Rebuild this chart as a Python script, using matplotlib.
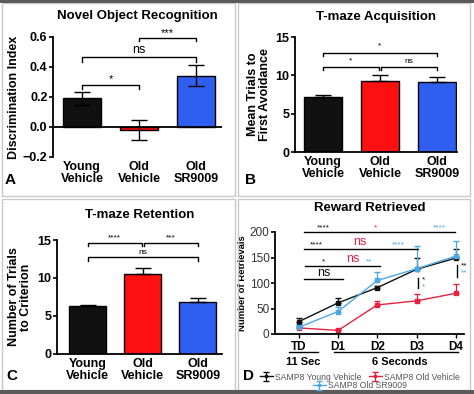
import matplotlib
matplotlib.use("Agg")
import matplotlib.pyplot as plt
import matplotlib.transforms as mtransforms
from matplotlib.patches import Rectangle
import numpy as np

plt.rcParams['font.family'] = ['Liberation Sans', 'DejaVu Sans']

# --- data ---
groups = ["Young\nVehicle", "Old\nVehicle", "Old\nSR9009"]
bar_colors = ["#111111", "#ff1010", "#2f5ff0"]

nor_mean = [0.19, -0.02, 0.34]
nor_sem = [0.045, 0.065, 0.07]

acq_mean = [7.2, 9.3, 9.1]
acq_sem = [0.3, 0.7, 0.7]

ret_mean = [6.3, 10.5, 6.9]
ret_sem = [0.2, 0.85, 0.45]

days = ["TD", "D1", "D2", "D3", "D4"]
young_ret = [24, 61, 91, 127, 149]
young_err = [8, 10, 4, 22, 17]
old_ret = [12, 7, 57, 65, 80]
old_err = [3, 2, 8, 13, 18]
sr_ret = [13, 44, 105, 128, 153]
sr_err = [4, 9, 17, 44, 29]

W, H = 474, 394
fig = plt.figure(figsize=(W / 100, H / 100), dpi=100)


def px_axes(x0, y0, x1, y1):
    return fig.add_axes([x0 / W, 1 - y1 / H, (x1 - x0) / W, (y1 - y0) / H])


# panel frames
for (x0, y0, x1, y1) in [(2, 3, 235, 196), (238, 3, 470, 196),
                         (2, 199, 235, 390), (238, 199, 470, 390)]:
    fig.patches.append(Rectangle((x0 / W, 1 - y1 / H), (x1 - x0) / W, (y1 - y0) / H,
                                 transform=fig.transFigure, fill=False,
                                 ec="#c8c8c8", lw=1.0))
fig.patches.append(Rectangle((0, 1 - 3 / H), 1, 3 / H, transform=fig.transFigure,
                             color="#5a5a5a", lw=0))
fig.patches.append(Rectangle((0, 0), 1, 4 / H, transform=fig.transFigure,
                             color="#5a5a5a", lw=0))


def style(ax):
    for s in ["top", "right"]:
        ax.spines[s].set_visible(False)
    for s in ["left", "bottom"]:
        ax.spines[s].set_linewidth(1.3)
    ax.tick_params(axis="y", length=3, width=1.2, labelsize=9, pad=1)
    ax.tick_params(axis="x", length=0, labelsize=9, pad=3)
    for t in ax.get_yticklabels() + ax.get_xticklabels():
        t.set_fontweight("bold")


def bracket(ax, x1, x2, y, h, txt, fs, dy, col="black"):
    ax.plot([x1, x1, x2, x2], [y - h, y, y, y - h], color=col, lw=1.0, clip_on=False)
    ax.text((x1 + x2) / 2, y + dy, txt, ha="center", va="bottom", fontsize=fs, color=col)


def bars(ax, means, sems, both=False):
    x = np.arange(len(means))
    lower = np.array(sems) if both else np.zeros(len(sems))
    ax.bar(x, means, width=0.67, color=bar_colors, edgecolor="black", lw=1.0, zorder=2)
    ax.errorbar(x, means, yerr=[lower, sems], fmt="none", ecolor="black",
                elinewidth=1.0, capsize=6, capthick=1.0, zorder=3)
    ax.set_xticks(x)
    ax.set_xticklabels(groups, linespacing=1.0)


# A: Novel Object Recognition
axA = px_axes(53, 37, 222, 157)
bars(axA, nor_mean, nor_sem, both=True)
axA.set_ylim(-0.2, 0.6)
axA.set_xlim(-0.51, 2.46)
axA.set_yticks([-0.2, 0.0, 0.2, 0.4, 0.6])
axA.spines["bottom"].set_visible(False)
axA.axhline(0, color="black", lw=1.3, zorder=4)
style(axA)
axA.set_ylabel("Discrimination Index", fontsize=9, fontweight="bold", labelpad=2)
axA.set_title("Novel Object Recognition", fontsize=9.5, fontweight="bold", pad=13)
bracket(axA, 0, 1, 0.28, 0.03, "*", 8, 0.005)
bracket(axA, 0, 2, 0.465, 0.035, "ns", 9, 0.01)
bracket(axA, 1, 2, 0.595, 0.02, "***", 8, 0.0)

# B: T-maze Acquisition
axB = px_axes(295, 37, 457, 152)
bars(axB, acq_mean, acq_sem)
axB.set_ylim(0, 15)
axB.set_xlim(-0.49, 2.35)
axB.set_yticks([0, 5, 10, 15])
style(axB)
axB.set_ylabel("Mean Trials to\nFirst Avoidance", fontsize=9, fontweight="bold",
               labelpad=3, linespacing=1.0)
axB.set_title("T-maze Acquisition", fontsize=9.5, fontweight="bold", pad=12)
bracket(axB, 0, 2, 12.9, 0.4, "*", 6, 0.5)
bracket(axB, 0, 0.98, 11.1, 0.4, "*", 6, 0.3)
bracket(axB, 1.02, 2, 11.1, 0.4, "ns", 6, 0.3)

# C: T-maze Retention
axC = px_axes(57, 240, 222, 354)
bars(axC, ret_mean, ret_sem)
axC.set_ylim(0, 15)
axC.set_xlim(-0.56, 2.44)
axC.set_yticks([0, 5, 10, 15])
style(axC)
axC.set_ylabel("Number of Trials\nto Criterion", fontsize=9, fontweight="bold",
               labelpad=4, linespacing=1.0)
axC.set_title("T-maze Retention", fontsize=9.5, fontweight="bold", pad=16)
bracket(axC, 0, 0.98, 14.6, 0.4, "****", 6, 0.2)
bracket(axC, 1.02, 2, 14.6, 0.4, "***", 6, 0.2)
bracket(axC, 0, 2, 12.7, 0.4, "ns", 6, 0.2)

# D: Reward Retrieved
axD = px_axes(275, 232, 464, 334)
x = np.arange(len(days))
c_y, c_o, c_s = "#111111", "#e8203f", "#4aa8e6"
for vals, err, col, lab in [(young_ret, young_err, c_y, "SAMP8 Young Vehicle"),
                            (old_ret, old_err, c_o, "SAMP8 Old Vehicle"),
                            (sr_ret, sr_err, c_s, "SAMP8 Old SR9009")]:
    axD.errorbar(x, vals, yerr=[np.zeros(len(err)), err], color=col, lw=1.0,
                 marker="s", ms=2.5, capsize=2, elinewidth=0.9, label=lab)
axD.set_ylim(0, 200)
axD.set_xlim(-0.6, 4.2)
axD.set_yticks([0, 50, 100, 150, 200])
axD.set_xticks(x)
axD.set_xticklabels(days)
style(axD)
axD.tick_params(axis="x", length=3, width=1.0, labelsize=8.5, pad=2)
axD.tick_params(axis="y", labelsize=8.5, labelcolor="#333333")
for t in axD.get_yticklabels():
    t.set_fontweight("normal")
axD.set_ylabel("Number of Retrievals", fontsize=6.8, fontweight="bold", labelpad=2)
axD.set_title("Reward Retrieved", fontsize=9.5, fontweight="bold", pad=15)

sig_lines = [(0.13, 3.96, 200), (0.13, 3.03, 167), (0.17, 2.06, 134), (0.13, 1.12, 107)]
for x1, x2, yy in sig_lines:
    axD.plot([x1, x2], [yy, yy], color="black", lw=1.0, clip_on=False)
sig_texts = [(0.63, 200, "****", c_y, 6), (1.94, 200, "*", c_o, 6), (3.58, 200, "****", c_s, 6),
             (0.46, 167, "****", c_y, 6), (1.56, 167, "ns", c_o, 9), (2.53, 167, "****", c_s, 6),
             (0.63, 134, "*", c_y, 6), (1.37, 134, "ns", c_o, 9), (1.79, 134, "**", c_s, 6),
             (0.65, 107, "ns", c_y, 9)]
for tx, ty, s, col, fs in sig_texts:
    axD.text(tx, ty + 1, s, ha="center", va="bottom", fontsize=fs, color=col, clip_on=False)
axD.plot([3.03, 3.03], [91, 109], color="black", lw=1.0)
axD.text(3.17, 106, "*", ha="center", va="center", fontsize=6, color=c_y)
axD.text(3.17, 93, "*", ha="center", va="center", fontsize=6, color=c_s)
axD.plot([4.02, 4.02], [112, 135], color="black", lw=1.0, clip_on=False)
axD.text(4.21, 133, "**", ha="center", va="center", fontsize=6, color=c_y, clip_on=False)
axD.text(4.21, 119, "**", ha="center", va="center", fontsize=6, color=c_s, clip_on=False)

trD = mtransforms.blended_transform_factory(axD.transData, axD.transAxes)
axD.plot([-0.25, 0.5], [-0.18, -0.18], color="black", lw=1.0, transform=trD, clip_on=False)
axD.plot([0.89, 4.05], [-0.18, -0.18], color="black", lw=1.0, transform=trD, clip_on=False)
axD.text(0.12, -0.27, "11 Sec", transform=trD, ha="center", va="center",
         fontsize=8, fontweight="bold")
axD.text(2.56, -0.27, "6 Seconds", transform=trD, ha="center", va="center",
         fontsize=8, fontweight="bold")

h, l = axD.get_legend_handles_labels()
fig.legend(h[:2], l[:2], ncol=2, loc="center", bbox_to_anchor=(360 / W, 1 - 377 / H),
           frameon=False, fontsize=6.2, handlelength=1.5, handletextpad=0.3,
           columnspacing=0.8, borderpad=0, labelcolor="#555555", markerscale=0.8)
fig.legend(h[2:], l[2:], loc="center", bbox_to_anchor=(360 / W, 1 - 386 / H),
           frameon=False, fontsize=6.2, handlelength=1.5, handletextpad=0.3,
           borderpad=0, labelcolor="#555555", markerscale=0.8)

# panel letters
for lt, (px, py) in zip("ABCD", [(10, 180), (250, 180), (12, 376), (248, 376)]):
    fig.text(px / W, 1 - py / H, lt, fontsize=11, fontweight="bold", ha="center", va="center")

fig.savefig("out.png", dpi=100)
